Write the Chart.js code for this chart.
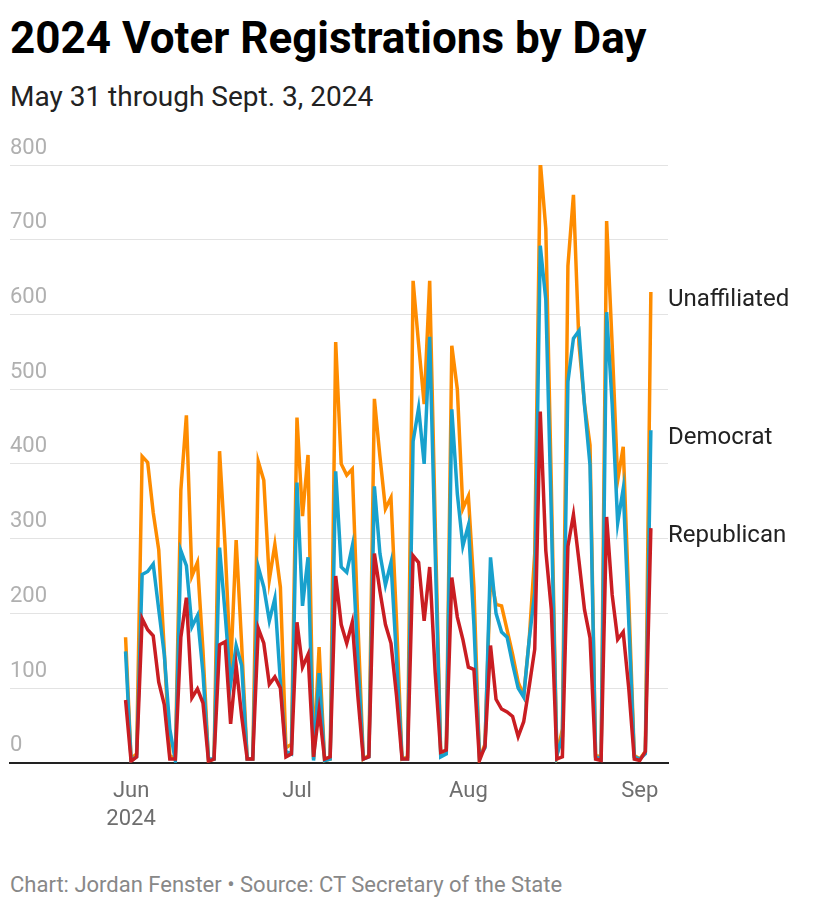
<!DOCTYPE html>
<html>
<head>
<meta charset="utf-8">
<script src="https://cdn.jsdelivr.net/npm/chart.js@4.4.1/dist/chart.umd.min.js"></script>
<style>
  body { margin: 0; background: #fff; font-family: Roboto, sans-serif; }
  #wrap { position: relative; width: 820px; height: 910px; overflow: hidden; }
  h1 { position: absolute; left: 10px; top: 16px; margin: 0; font-size: 44px; line-height: 1; font-weight: 700; color: #000; white-space: nowrap; }
  .sub { position: absolute; left: 10px; top: 83px; font-size: 28px; line-height: 1; color: #222; white-space: nowrap; }
  .foot { position: absolute; left: 10px; top: 874px; font-size: 22px; line-height: 1; color: #888; white-space: nowrap; }
  .chartBox { position: absolute; left: 0; top: 130px; width: 820px; height: 730px; }
</style>
</head>
<body>
<div id="wrap">
  <h1>2024 Voter Registrations by Day</h1>
  <div class="sub">May 31 through Sept. 3, 2024</div>
  <div class="chartBox"><canvas id="regChart"></canvas></div>
  <div class="foot">Chart: Jordan Fenster • Source: CT Secretary of the State</div>
</div>
<script>
// daily values, May 31 (index 0) through Sept. 3 (index 95)
var unaffiliated = [
  168, 5, 12, 410, 402, 335, 285, 150, 10, 5,
  365, 465, 250, 268, 150, 3, 5, 417, 290, 125,
  298, 158, 5, 5, 403, 378, 245, 292, 235, 20,
  25, 462, 330, 412, 5, 155, 3, 5, 563, 400,
  385, 393, 190, 5, 10, 487, 410, 340, 355, 190,
  5, 8, 645, 560, 480, 645, 320, 10, 15, 558,
  500, 340, 357, 235, 5, 25, 250, 212, 210, 178,
  145, 108, 90, 165, 280, 805, 715, 370, 10, 45,
  665, 760, 560, 480, 425, 10, 8, 725, 560, 378,
  423, 220, 10, 5, 15, 630
];
var democrat = [
  149, 3, 8, 252, 256, 266, 205, 145, 45, 3,
  284, 264, 182, 197, 120, 5, 5, 288, 200, 105,
  157, 130, 5, 5, 262, 235, 190, 220, 108, 15,
  12, 375, 210, 275, 3, 120, 3, 5, 390, 262,
  255, 290, 140, 5, 8, 370, 280, 238, 268, 140,
  5, 5, 430, 475, 400, 570, 280, 8, 12, 473,
  360, 290, 318, 185, 8, 20, 275, 200, 175, 168,
  132, 100, 88, 165, 228, 692, 620, 330, 10, 35,
  510, 568, 578, 478, 398, 8, 5, 603, 480, 321,
  367, 190, 8, 5, 12, 445
];
var republican = [
  84, 2, 8, 193, 178, 170, 108, 78, 5, 5,
  168, 221, 87, 99, 80, 2, 5, 158, 162, 52,
  130, 62, 5, 5, 180, 160, 105, 115, 100, 8,
  12, 188, 128, 145, 8, 70, 5, 8, 250, 185,
  160, 188, 90, 5, 8, 280, 230, 185, 160, 90,
  5, 5, 277, 268, 190, 262, 120, 14, 17, 248,
  195, 165, 128, 125, 3, 22, 157, 85, 72, 68,
  62, 35, 55, 102, 152, 470, 284, 205, 5, 8,
  290, 332, 270, 205, 167, 5, 3, 329, 225, 165,
  175, 100, 5, 3, 15, 314
];

// month ticks: day index from May 31
var monthTicks = [1, 31, 62, 93];
var monthLabels = [["Jun", "2024"], "Jul", "Aug", "Sep"];
var yTicks = [0, 100, 200, 300, 400, 500, 600, 700, 800];

function toPoints(values) {
  return values.map(function (v, i) { return { x: i, y: v }; });
}

// series name written at the end of each line
var endLabels = {
  id: "endLabels",
  afterDatasetsDraw: function (chart) {
    var ctx = chart.ctx;
    var area = chart.chartArea;
    ctx.save();
    ctx.font = "24px Roboto";
    ctx.fillStyle = "#222";
    ctx.textBaseline = "middle";
    ctx.textAlign = "left";
    chart.data.datasets.forEach(function (ds, i) {
      var pts = chart.getDatasetMeta(i).data;
      var last = pts[pts.length - 1];
      ctx.fillText(ds.label, area.right, last.y + 8);
    });
    ctx.restore();
  }
};

Chart.defaults.font.family = "Roboto, sans-serif";

var ctx = document.getElementById("regChart").getContext("2d");
var regChart = new Chart(ctx, {
  type: "line",
  data: {
    datasets: [
      { label: "Republican", data: toPoints(republican), borderColor: "#c91d22" },
      { label: "Democrat", data: toPoints(democrat), borderColor: "#18a1cd" },
      { label: "Unaffiliated", data: toPoints(unaffiliated), borderColor: "#fe8c00" }
    ]
  },
  options: {
    responsive: true,
    maintainAspectRatio: false,
    animation: false,
    layout: { padding: { top: 35, left: 10, right: 152, bottom: 12 } },
    plugins: { legend: { display: false }, tooltip: { enabled: false } },
    elements: {
      point: { radius: 0 },
      line: { borderWidth: 3.5, tension: 0, fill: false }
    },
    scales: {
      x: {
        type: "linear",
        min: -20.9,
        max: 98.1,
        grid: { display: false, drawTicks: false },
        border: { display: true, color: "#222", width: 2 },
        afterBuildTicks: function (scale) {
          scale.ticks = monthTicks.map(function (v) { return { value: v }; });
        },
        ticks: {
          autoSkip: false,
          maxRotation: 0,
          padding: 14,
          color: "#6e6e6e",
          font: { size: 22, lineHeight: 1.3 },
          callback: function (v) { return monthLabels[monthTicks.indexOf(v)]; }
        }
      },
      y: {
        min: 0,
        max: 800,
        grid: { color: "#e3e3e3", lineWidth: 1, drawTicks: false },
        border: { display: false },
        afterBuildTicks: function (scale) {
          scale.ticks = yTicks.map(function (v) { return { value: v }; });
        },
        ticks: {
          mirror: true,
          padding: 0,
          labelOffset: -17,
          color: "#b0b0b0",
          font: { size: 22 }
        }
      }
    }
  },
  plugins: [endLabels]
});
</script>
</body>
</html>
